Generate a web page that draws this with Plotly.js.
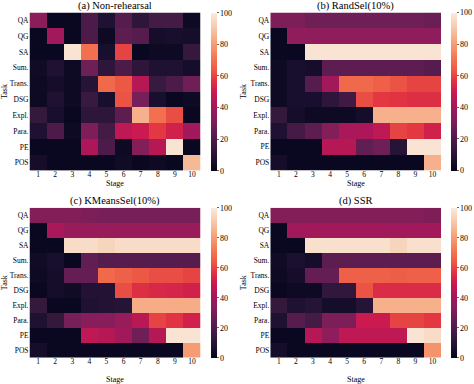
<!DOCTYPE html>
<html>
<head>
<meta charset="utf-8">
<script src="https://cdn.plot.ly/plotly-3.0.1.min.js"></script>
<style>html,body{margin:0;padding:0;background:#fff;}#chart{width:474px;height:384px;}</style>
</head>
<body>
<div id="chart"></div>
<script>
const stages = [1, 2, 3, 4, 5, 6, 7, 8, 9, 10];
const tasks = ['QA', 'QG', 'SA', 'Sum.', 'Trans.', 'DSG', 'Expl.', 'Para.', 'PE', 'POS'];
const panelTitles = ['(a) Non-rehearsal', '(b) RandSel(10%)', '(c) KMeansSel(10%)', '(d) SSR'];
const colorTicks = [0, 20, 40, 60, 80, 100];

// rows: tasks (QA..POS), columns: stages 1..10
const nonRehearsal = [
  [35, 2, 2, 20, 8, 22, 12, 18, 18, 3],
  [2, 40, 2, 20, 3, 24, 22, 5, 6, 5],
  [2, 2, 98, 70, 6, 60, 2, 3, 3, 14],
  [4, 8, 3, 28, 12, 20, 12, 8, 8, 5],
  [3, 5, 3, 10, 68, 64, 45, 15, 20, 28],
  [3, 8, 3, 15, 6, 63, 30, 6, 2, 3],
  [14, 6, 2, 12, 12, 24, 85, 70, 62, 2],
  [8, 20, 3, 32, 18, 47, 50, 58, 52, 40],
  [2, 2, 2, 43, 20, 3, 33, 45, 98, 2],
  [5, 2, 2, 2, 2, 4, 2, 3, 2, 87]
];
const randSel = [
  [32, 32, 28, 28, 28, 28, 28, 28, 28, 27],
  [2, 36, 36, 36, 36, 36, 36, 36, 36, 36],
  [2, 2, 98, 98, 98, 98, 98, 98, 98, 98],
  [3, 6, 5, 24, 24, 24, 24, 24, 24, 22],
  [3, 6, 22, 40, 68, 68, 66, 63, 60, 60],
  [3, 6, 6, 12, 17, 62, 58, 57, 56, 56],
  [14, 5, 3, 3, 3, 5, 85, 85, 85, 85],
  [8, 18, 24, 33, 42, 43, 47, 60, 58, 52],
  [2, 2, 2, 45, 45, 25, 28, 10, 98, 98],
  [5, 2, 2, 2, 2, 2, 2, 2, 2, 85]
];
const kmeansSel = [
  [33, 33, 33, 32, 30, 30, 30, 30, 30, 30],
  [2, 42, 38, 38, 38, 38, 38, 38, 38, 38],
  [2, 2, 96, 96, 94, 96, 96, 96, 96, 96],
  [4, 6, 2, 25, 22, 22, 22, 22, 22, 22],
  [3, 5, 26, 26, 68, 66, 64, 62, 62, 60],
  [2, 5, 4, 9, 9, 62, 56, 54, 53, 52],
  [14, 2, 2, 8, 9, 10, 84, 84, 84, 84],
  [8, 14, 30, 34, 34, 38, 46, 60, 57, 52],
  [2, 2, 2, 47, 45, 40, 28, 45, 98, 98],
  [5, 2, 2, 2, 2, 2, 2, 2, 2, 80]
];
const ssr = [
  [33, 33, 33, 33, 33, 33, 33, 33, 33, 32],
  [2, 40, 40, 40, 40, 40, 40, 40, 40, 40],
  [2, 2, 97, 97, 97, 97, 97, 94, 97, 97],
  [4, 7, 5, 24, 24, 24, 24, 24, 24, 24],
  [3, 5, 26, 26, 66, 66, 66, 65, 66, 66],
  [2, 3, 3, 13, 13, 63, 55, 55, 55, 55],
  [14, 8, 10, 5, 5, 10, 85, 85, 85, 85],
  [8, 22, 18, 32, 32, 50, 50, 60, 60, 58],
  [2, 2, 45, 36, 47, 47, 47, 47, 98, 96],
  [5, 2, 2, 2, 2, 2, 2, 2, 2, 78]
];
const panels = [nonRehearsal, randSel, kmeansSel, ssr];

const rocket = [
  [0.0, '#03051a'],
  [0.071, '#1c1030'],
  [0.143, '#35193e'],
  [0.214, '#521c4c'],
  [0.286, '#701f57'],
  [0.357, '#8e1d5b'],
  [0.429, '#ad1759'],
  [0.5, '#ca1a50'],
  [0.571, '#e13342'],
  [0.643, '#ed5a45'],
  [0.714, '#f37651'],
  [0.786, '#f5966e'],
  [0.857, '#f6b48f'],
  [0.929, '#f7d0b6'],
  [1.0, '#faebdd']
];

const W = 474, H = 384;
// pixel boxes [left, right, top, bottom] and colorbar left
const boxes = [
  {l: 29.5, r: 200.5, t: 12.5, b: 170.7, cb: 211, titleY: 6, stageY: 183.5, taskX: 4.5},
  {l: 270.3, r: 441, t: 12.5, b: 170.5, cb: 450.5, titleY: 6, stageY: 183.5, taskX: 243.5},
  {l: 29.5, r: 200.5, t: 207.7, b: 357.7, cb: 211, titleY: 201, stageY: 379.5, taskX: 4.5},
  {l: 270.3, r: 441, t: 207.7, b: 357.7, cb: 450.5, titleY: 201, stageY: 379.5, taskX: 243.5}
];

const fam = '"Liberation Serif", "Times New Roman", serif';
const tickFont = {family: fam, size: 7.5, color: '#000'};
const data = [];
const layout = {
  width: W, height: H,
  margin: {l: 0, r: 0, t: 0, b: 0},
  paper_bgcolor: '#fff', plot_bgcolor: '#fff',
  font: {family: fam, size: 8, color: '#000'},
  showlegend: false,
  annotations: []
};

panels.forEach(function (z, i) {
  const bx = boxes[i];
  const sfx = i === 0 ? '' : String(i + 1);
  const xa = 'x' + sfx, ya = 'y' + sfx;
  data.push({
    type: 'heatmap',
    x: stages, y: tasks, z: z,
    xaxis: xa, yaxis: ya,
    zmin: 0, zmax: 100,
    colorscale: rocket,
    hoverinfo: 'skip',
    colorbar: {
      x: bx.cb / W, xanchor: 'left', xref: 'paper',
      y: 1 - bx.b / H, yanchor: 'bottom', yref: 'paper',
      len: (bx.b - bx.t) / H, lenmode: 'fraction',
      thickness: 6, thicknessmode: 'pixels',
      xpad: 0, ypad: 0,
      outlinewidth: 0,
      tickvals: colorTicks,
      ticks: 'outside', ticklen: 2, tickwidth: 0.6, tickcolor: '#000',
      tickfont: {family: fam, size: 8, color: '#000'}
    }
  });
  layout['xaxis' + sfx] = {
    domain: [bx.l / W, bx.r / W], anchor: ya,
    tickvals: stages, ticktext: stages.map(String),
    range: [0.5, 10.5],
    ticks: '', ticklabelstandoff: -2,
    showgrid: false, zeroline: false, showline: false,
    tickfont: tickFont
  };
  layout['yaxis' + sfx] = {
    domain: [1 - bx.b / H, 1 - bx.t / H], anchor: xa,
    type: 'category', autorange: 'reversed',
    ticks: '', ticklabelstandoff: 0,
    showgrid: false, zeroline: false, showline: false,
    tickfont: tickFont
  };
  layout.annotations.push({
    text: panelTitles[i], xref: 'paper', yref: 'paper',
    x: (bx.l + bx.r) / 2 / W, y: 1 - bx.titleY / H,
    xanchor: 'center', yanchor: 'middle', showarrow: false,
    font: {family: fam, size: 10.5, color: '#000'}
  });
  layout.annotations.push({
    text: 'Stage', xref: 'paper', yref: 'paper',
    x: (bx.l + bx.r) / 2 / W, y: 1 - bx.stageY / H,
    xanchor: 'center', yanchor: 'middle', showarrow: false,
    font: {family: fam, size: 8, color: '#000'}
  });
  layout.annotations.push({
    text: 'Task', xref: 'paper', yref: 'paper', textangle: -90,
    x: bx.taskX / W, y: 1 - (bx.t + bx.b) / 2 / H,
    xanchor: 'center', yanchor: 'middle', showarrow: false,
    font: {family: fam, size: 8, color: '#000'}
  });
});

Plotly.newPlot('chart', data, layout, {staticPlot: true, displayModeBar: false});
</script>
</body>
</html>
